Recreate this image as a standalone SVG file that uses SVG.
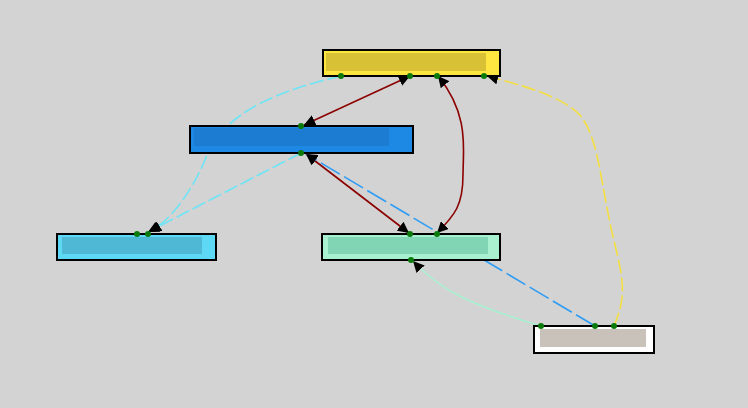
<svg xmlns="http://www.w3.org/2000/svg" width="748" height="408" viewBox="0 0 748 408">
<defs>
<marker id="ar" viewBox="0 0 10 10" refX="10" refY="5" markerWidth="7" markerHeight="7" orient="auto-start-reverse"><path d="M0,0L10,5L0,10z" fill="#000"/></marker>
<style>
.n{stroke:#000;stroke-width:2}
.e{fill:none;stroke-width:1.6}
.d{fill:#0a7a0a}
</style>
</defs>
<rect width="748" height="408" fill="#d3d3d3"/>
<g id="edges">
<path class="e" d="M341,76 C260,95 220,120 205,160 C190,195 170,220 150,232" stroke="#6ee5f5" stroke-dasharray="14,4" marker-end="url(#ar)"/>
<path class="e" d="M301,153 L148,232" stroke="#6ee5f5" stroke-dasharray="14,4" marker-end="url(#ar)"/>
<path class="e" d="M410,76 L304,125" stroke="#8b0000" marker-start="url(#ar)" marker-end="url(#ar)"/>
<path class="e" d="M438,76 C470,115 463,150 463,175 C463,205 455,215 437,233" stroke="#8b0000" marker-start="url(#ar)" marker-end="url(#ar)"/>
<path class="e" d="M306,154 L409,233" stroke="#8b0000" marker-start="url(#ar)" marker-end="url(#ar)"/>
<path class="e" d="M595,326 L306,154" stroke="#2f9cf5" stroke-dasharray="22,5" marker-end="url(#ar)"/>
<path class="e" d="M541,326 C470,305 440,290 413,261" stroke="#a8f0d0" marker-end="url(#ar)"/>
<path class="e" d="M614,326 C625,300 625,285 615,245 C600,185 600,140 580,115 C560,95 520,85 487,76" stroke="#f5e040" stroke-dasharray="14,4" marker-end="url(#ar)"/>
</g>
<g id="nA"><rect class="n" x="323" y="50" width="177" height="26" fill="#ffe640"/>
<rect x="326" y="53" width="160" height="18" fill="#c8b030" opacity="0.7"/></g>
<g id="nB"><rect class="n" x="190" y="126" width="223" height="27" fill="#1e88e5"/>
<rect x="194" y="128" width="195" height="18" fill="#1a6fc0" opacity="0.5"/></g>
<g id="nC"><rect class="n" x="57" y="234" width="159" height="26" fill="#5dd9f5"/>
<rect x="62" y="237" width="140" height="17" fill="#48aac8" opacity="0.7"/></g>
<g id="nD"><rect class="n" x="322" y="234" width="178" height="26" fill="#a8f0d0"/>
<rect x="328" y="237" width="160" height="17" fill="#70c8a8" opacity="0.7"/></g>
<g id="nE"><rect class="n" x="534" y="326" width="120" height="27" fill="#fff"/>
<rect x="540" y="329" width="106" height="18" fill="#c8c2ba"/></g>
<g id="dots">
<circle class="d" cx="341" cy="76" r="3"/><circle class="d" cx="410" cy="76" r="3"/><circle class="d" cx="437" cy="76" r="3"/><circle class="d" cx="484" cy="76" r="3"/>
<circle class="d" cx="301" cy="126" r="3"/><circle class="d" cx="301" cy="153" r="3"/>
<circle class="d" cx="137" cy="234" r="3"/><circle class="d" cx="148" cy="234" r="3"/>
<circle class="d" cx="410" cy="234" r="3"/><circle class="d" cx="437" cy="234" r="3"/><circle class="d" cx="411" cy="260" r="3"/>
<circle class="d" cx="541" cy="326" r="3"/><circle class="d" cx="595" cy="326" r="3"/><circle class="d" cx="614" cy="326" r="3"/>
</g>
</svg>
